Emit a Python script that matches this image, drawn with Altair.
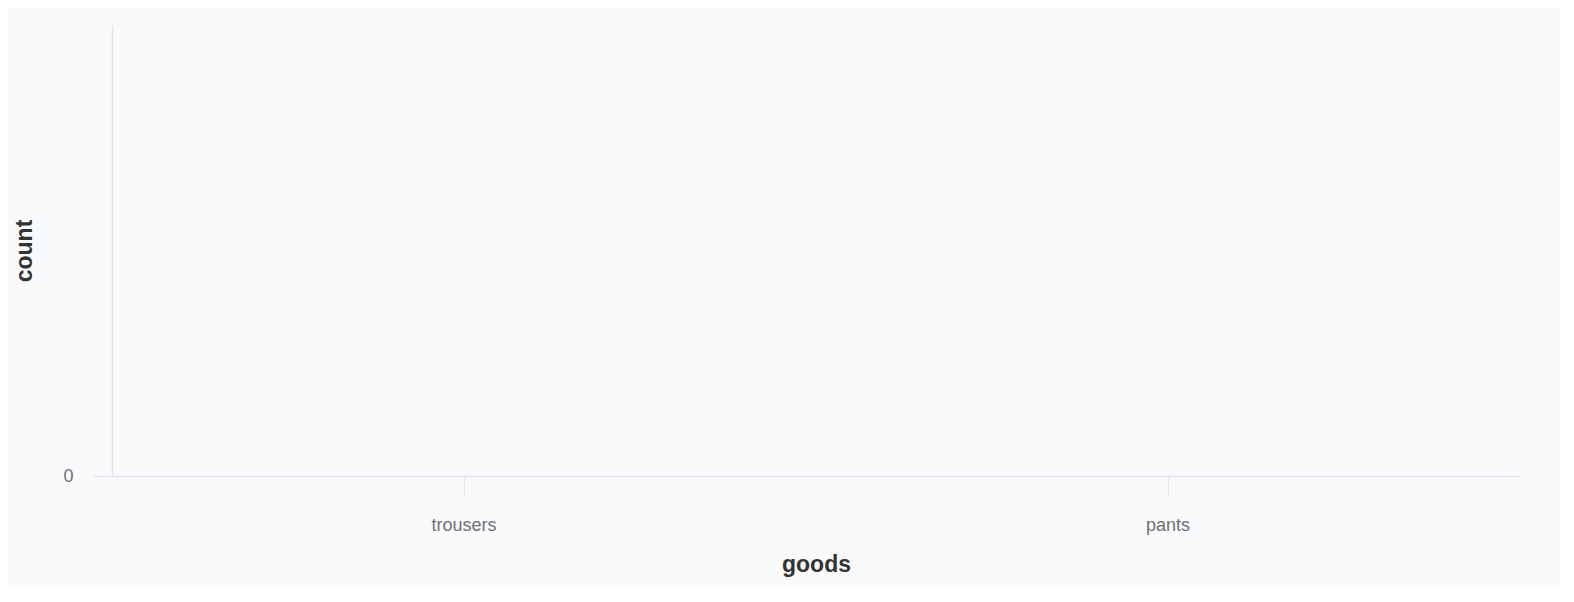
import altair as alt
import pandas as pd

goods = ["trousers", "pants"]
counts = [0, 0]

data = pd.DataFrame({"goods": goods, "count": counts})

BACKGROUND = "#f9fafc"
AXIS_GREY = "#e3e5ea"
LABEL_GREY = "#6e7079"
TITLE_DARK = "#333333"
FONT = "Liberation Sans"

bars = (
    alt.Chart(data)
    .mark_bar(color="#5470c6")
    .encode(
        x=alt.X(
            "goods:N",
            sort=goods,
            title="goods",
            scale=alt.Scale(paddingInner=0, paddingOuter=0),
            axis=alt.Axis(
                labelAngle=0,
                labelFontSize=18,
                labelColor=LABEL_GREY,
                labelPadding=20,
                labelFont=FONT,
                tickSize=20,
                tickColor=AXIS_GREY,
                domainColor=AXIS_GREY,
                domainWidth=1.5,
                titleFontSize=23,
                titleFont=FONT,
                titleFontWeight="bold",
                titleColor=TITLE_DARK,
                titlePadding=19,
                grid=False,
            ),
        ),
        y=alt.Y(
            "count:Q",
            title="count",
            scale=alt.Scale(domain=[0, 1]),
            axis=alt.Axis(
                values=[0],
                labelFontSize=18,
                labelColor=LABEL_GREY,
                labelPadding=20,
                labelFont=FONT,
                tickSize=19,
                tickColor=AXIS_GREY,
                tickWidth=1.5,
                domainColor=AXIS_GREY,
                domainWidth=1.5,
                titleFontSize=23,
                titleFont=FONT,
                titleFontWeight="bold",
                titleColor=TITLE_DARK,
                titlePadding=26,
                grid=False,
            ),
        ),
    )
)

chart = (
    bars.properties(
        width=1408,
        height=451,
        autosize=alt.AutoSizeParams(type="none"),
        padding={"left": 104, "top": 17, "right": 40, "bottom": 112},
        background=BACKGROUND,
        usermeta={"embedOptions": {"defaultStyle": f"body {{ background: {BACKGROUND}; }}"}},
    )
    .configure_view(stroke=None)
)

chart.save("out.html", embed_options={"renderer": "svg", "actions": False})
